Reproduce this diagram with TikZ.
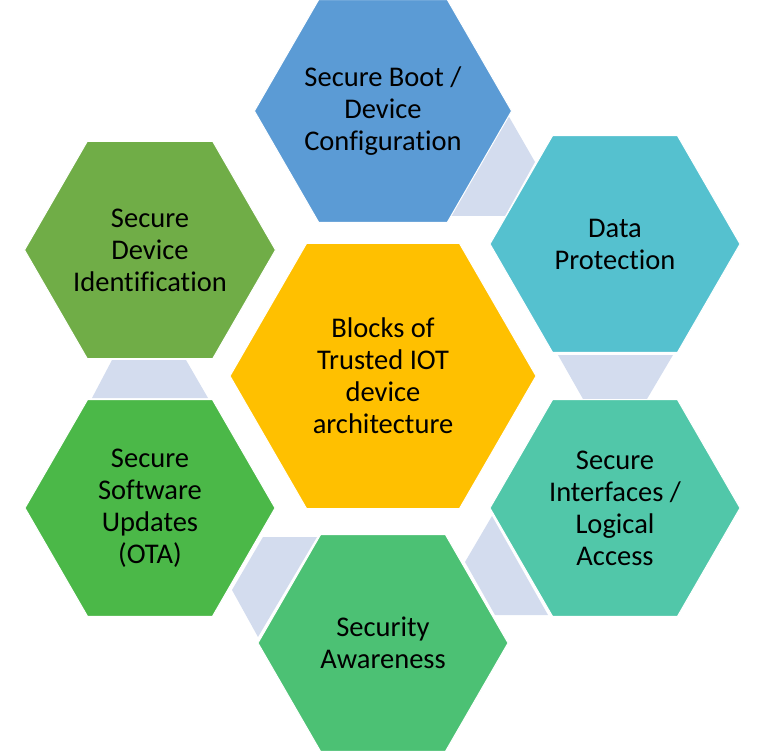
\documentclass[tikz,border=0pt]{standalone}
\usepackage{fontspec}
\setmainfont{Carlito}[Ligatures=CommonOff]
\usetikzlibrary{shapes.geometric}
\definecolor{cBoot}{HTML}{5B9BD5}
\definecolor{cData}{HTML}{55C1CF}
\definecolor{cIntf}{HTML}{51C7A9}
\definecolor{cAware}{HTML}{4CC174}
\definecolor{cOTA}{HTML}{4BB848}
\definecolor{cIdent}{HTML}{70AD47}
\definecolor{cCore}{HTML}{FFC000}
\definecolor{cConn}{HTML}{D3DCEE}
\begin{document}
\begin{tikzpicture}[x=1pt,y=-1pt,
  hexa/.style={regular polygon, regular polygon sides=6, minimum size=250pt,
    inner sep=0pt, align=center, draw=white, line width=1pt,
    font=\fontsize{28.5}{32}\selectfont, text=black},
  conn/.style={fill=cConn}]
\useasboundingbox (0,0) rectangle (766,754);
% connectors
\fill[conn] (508,115) -- (535,162) -- (505,216) -- (450,216) -- cycle;
\fill[conn] (558,355) -- (673,355) -- (647,399) -- (583,399) -- cycle;
\fill[conn] (492,516) -- (548,615) -- (495,615) -- (465,562) -- cycle;
\fill[conn] (263,537) -- (317,537) -- (258,637) -- (232,590) -- cycle;
\fill[conn] (112,360) -- (186,360) -- (208,398) -- (92,398) -- cycle;
% hexagons
\node[hexa, fill=cBoot] (boot) at (383,111) {Secure Boot /\\Device\\Configuration};
\node[hexa, fill=cData] (data) at (615,244) {Data\\Protection};
\node[hexa, fill=cIntf] (intf) at (615,508) {Secure\\Interfaces /\\Logical\\Access};
\node[hexa, fill=cAware] (aware) at (383,643) {Security\\Awareness};
\node[hexa, fill=cOTA] (ota) at (150,508) {Secure\\Software\\Updates\\(OTA)};
\node[hexa, fill=cIdent] (ident) at (150,250) {Secure\\Device\\Identification};
\node[hexa, fill=cCore, minimum size=306pt] (core) at (383,376) {Blocks of\\Trusted IOT\\device\\architecture};
\end{tikzpicture}
\end{document}
